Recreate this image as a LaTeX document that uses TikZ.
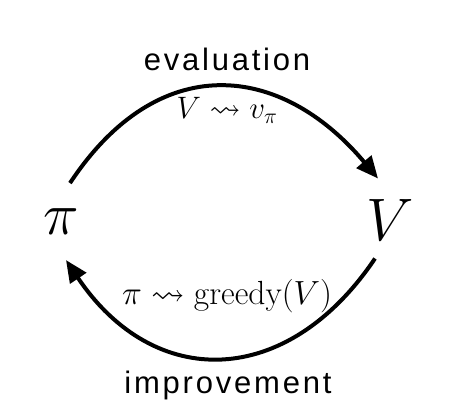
\RequirePackage{fix-cm}
\documentclass[tikz,border=0pt]{standalone}
\usepackage{amssymb}
\usepackage{fontspec}
\setsansfont{Liberation Sans}
\usetikzlibrary{arrows.meta,calc}
\tikzset{
  bigsym/.style={inner sep=0pt, font=\fontsize{60}{70}\selectfont},
  mathlbl/.style={inner sep=0pt, font=\fontsize{31}{36}\selectfont},
  mathlblb/.style={inner sep=0pt, font=\fontsize{33.5}{38}\selectfont},
  wordlbl/.style={inner sep=0pt, font=\fontsize{31}{36}\selectfont\sffamily\addfontfeature{LetterSpace=9}},
  cyc/.style={line width=4pt, -{Triangle[length=22pt,width=19pt]}}
}
\begin{document}
\begin{tikzpicture}[x=1pt,y=-1pt]
\useasboundingbox (0,0) rectangle (457,406);
\node[bigsym, anchor=base] (pi) at (61,234) {$\pi$};
\node[bigsym, anchor=base] (V) at (390,240) {$V$};
\node[wordlbl, anchor=base] (eval) at (227,71) {evaluation};
\node[wordlbl, anchor=base] (impr) at (228,393) {improvement};
\node[mathlbl, anchor=base] (lblv) at (227,119) {$V \leadsto v_\pi$};
\node[mathlblb, anchor=base] (lblp) at (227,304) {$\pi \leadsto \mathrm{greedy}(V)$};
\coordinate (s1) at ([shift={(9,-38)}]pi.center);
\coordinate (e1) at ([shift={(-12,-41)}]V.center);
\coordinate (s2) at ([shift={(-15,39)}]V.center);
\coordinate (e2) at ([shift={(5,39)}]pi.center);
\draw[cyc] (s1) .. controls (158,50) and (280,62) .. (e1);
\draw[cyc] (s2) .. controls (287,389) and (154,391) .. (e2);
\end{tikzpicture}
\end{document}
